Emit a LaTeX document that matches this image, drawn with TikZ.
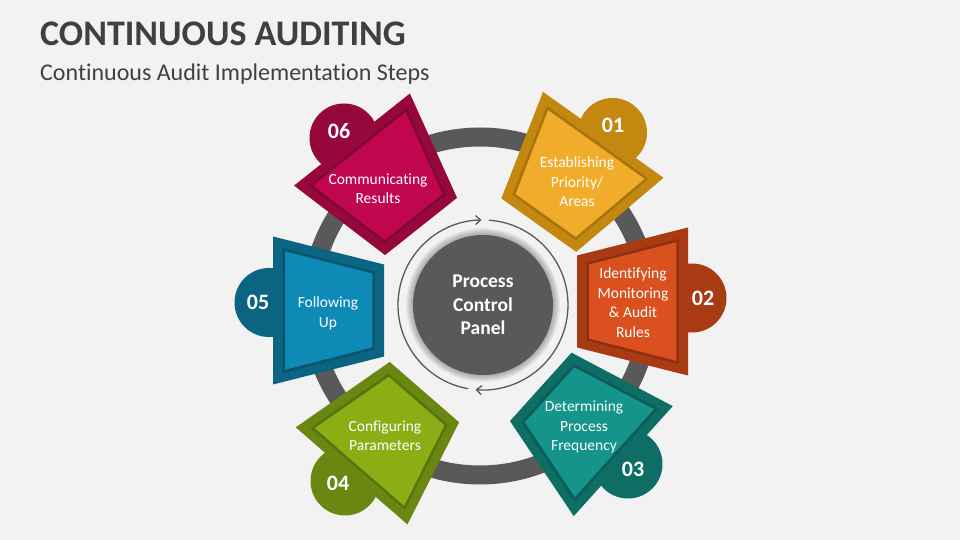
\documentclass[tikz,border=0pt]{standalone}
\usepackage{fontspec}
\setmainfont{Carlito}[Ligatures=NoCommon]
\usetikzlibrary{arrows.meta}
\definecolor{bg}{RGB}{242,242,242}
\definecolor{ringc}{RGB}{89,89,89}
\definecolor{titlec}{RGB}{64,64,64}
\definecolor{cAd}{RGB}{196,136,16}\definecolor{cAl}{RGB}{240,172,42}
\definecolor{cBd}{RGB}{168,58,20}\definecolor{cBl}{RGB}{218,80,30}
\definecolor{cCd}{RGB}{14,110,102}\definecolor{cCl}{RGB}{20,148,138}
\definecolor{cDd}{RGB}{104,136,18}\definecolor{cDl}{RGB}{138,174,20}
\definecolor{cEd}{RGB}{11,100,130}\definecolor{cEl}{RGB}{14,138,182}
\definecolor{cFd}{RGB}{150,8,60}\definecolor{cFl}{RGB}{192,6,78}
\newcommand{\steptrap}[5]{%
  \begin{scope}[shift={(#1,#2)},rotate=#3]
    \fill[#4] (-55.5,-46) -- (55.5,-74) -- (55.5,74) -- (-55.5,46) -- cycle;
    \filldraw[fill=#5, draw=#4!85!black, line width=2.5pt, line join=miter]
      (-45,-38) -- (45,-61) -- (45,61) -- (-45,38) -- cycle;
  \end{scope}}
\tikzset{
  lbl/.style={text=white, align=center, font=\fontsize{15.5}{19.5}\selectfont, inner sep=0pt},
  num/.style={text=white, font=\fontsize{22}{24}\selectfont\bfseries, inner sep=0pt},
  badge/.style={circle, minimum size=69pt, inner sep=0pt},
}
\begin{document}
\begin{tikzpicture}[x=1pt,y=1pt]
\useasboundingbox (0,0) rectangle (960,540);
\fill[bg] (0,0) rectangle (960,540);
% title
\node[anchor=base west, inner sep=0pt, text=titlec, font=\fontsize{36}{40}\selectfont\bfseries] (title) at (40,494) {CONTINUOUS AUDITING};
\node[anchor=base west, inner sep=0pt, text=titlec, font=\fontsize{24}{26}\selectfont] (subtitle) at (40,459) {Continuous Audit Implementation Steps};
% ring
\draw[ringc, line width=19pt] (480,234) circle[radius=169];
% badges
\node[badge, fill=cAd] (b1) at (612.5,407.5) {};
\node[badge, fill=cBd] (b2) at (692,242) {};
\node[badge, fill=cCd] (b3) at (628,76) {};
\node[badge, fill=cDd] (b4) at (345,59) {};
\node[badge, fill=cEd] (b5) at (269,237.5) {};
\node[badge, fill=cFd] (b6) at (344,402) {};
% trapezoids
\steptrap{571}{360}{54.5}{cAd}{cAl}
\steptrap{632.5}{238.5}{0}{cBd}{cBl}
\steptrap{582}{116}{-42}{cCd}{cCl}
\steptrap{388}{106}{229}{cDd}{cDl}
\steptrap{328.5}{229.5}{180}{cEd}{cEl}
\steptrap{386.5}{357}{128.5}{cFd}{cFl}
% numbers
\node[num] (n1) at (613,415) {01};
\node[num] (n2) at (703,242) {02};
\node[num] (n3) at (633,71) {03};
\node[num] (n4) at (338,57) {04};
\node[num] (n5) at (258,238) {05};
\node[num] (n6) at (339,409) {06};
% labels
\node[lbl] (l1) at (577,358) {Establishing\\Priority/\\Areas};
\node[lbl] (l2) at (633,237.5) {Identifying\\Monitoring\\\& Audit\\Rules};
\node[lbl] (l3) at (584,113) {Determining\\Process\\Frequency};
\node[lbl] (l4) at (385,104.5) {Configuring\\Parameters};
\node[lbl] (l5) at (328,226.5) {Following\\Up};
\node[lbl] (l6) at (378,351.5) {Communicating\\Results};
% center
\coordinate (cc) at (483,235);
\foreach \i in {1,...,7} {
  \fill[black, opacity=0.045] (cc) circle[radius=70+\i];
}
\node[circle, fill=ringc, minimum size=140pt, inner sep=0pt] (center) at (cc) {};
\node[text=white, align=center, font=\fontsize{19.5}{23.5}\selectfont\bfseries, inner sep=0pt] (ctext) at (cc) {Process\\Control\\Panel};
\draw[ringc, line width=1.3pt, -{Straight Barb[length=5pt,width=9pt]}] ([shift={(260:85)}]cc) arc[start angle=260, end angle=91, radius=85];
\draw[ringc, line width=1.3pt, -{Straight Barb[length=5pt,width=9pt]}] ([shift={(86:85)}]cc) arc[start angle=86, end angle=-95, radius=85];
\end{tikzpicture}
\end{document}
